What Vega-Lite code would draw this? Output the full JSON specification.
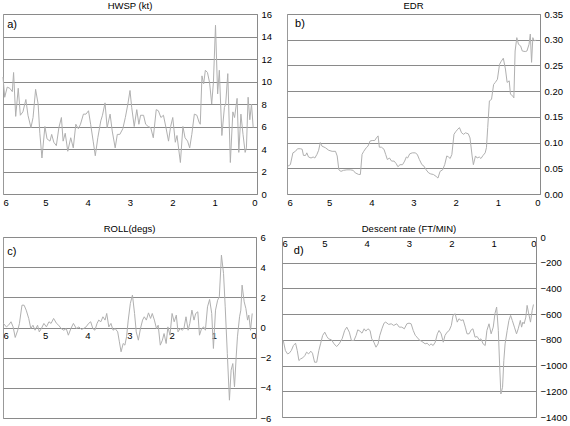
{
  "$schema": "https://vega.github.io/schema/vega-lite/v6.json",
  "padding": {"left": 0, "top": 0, "right": 0, "bottom": 0},
  "background": "white",
  "spacing": 16,
  "config": {
    "font": "Liberation Sans",
    "view": {"stroke": "#999999", "strokeWidth": 1},
    "title": {"fontSize": 9.5, "fontWeight": "normal", "font": "Liberation Sans", "offset": -1, "color": "black"},
    "axis": {
      "labelFont": "Liberation Sans", "labelFontSize": 9.5, "labelColor": "black", "labelOverlap": false,
      "tickCount": 20, "ticks": false, "title": null, "gridColor": "#8a8a8a", "gridOpacity": 1,
      "domainColor": "#8a8a8a", "labelPadding": 4
    },
    "line": {"color": "#b0b0b0", "strokeWidth": 1},
    "text": {"font": "Liberation Sans", "fontSize": 11, "align": "left", "baseline": "middle", "color": "black"}
  },
  "datasets": {
    "hwsp": [
      {"t":6.0,"v":10.4},{"t":5.96,"v":8.6},{"t":5.90,"v":9.5},{"t":5.84,"v":9.4},{"t":5.78,"v":9.1},{"t":5.75,"v":10.8},{"t":5.70,"v":6.9},{"t":5.64,"v":9.4},{"t":5.59,"v":7.0},{"t":5.53,"v":7.3},
      {"t":5.46,"v":8.4},{"t":5.41,"v":7.0},{"t":5.34,"v":5.9},{"t":5.29,"v":6.8},{"t":5.23,"v":9.3},{"t":5.17,"v":8.0},{"t":5.13,"v":5.4},{"t":5.08,"v":3.2},{"t":5.01,"v":6.0},{"t":4.96,"v":4.9},
      {"t":4.89,"v":4.7},{"t":4.85,"v":5.3},{"t":4.80,"v":4.6},{"t":4.74,"v":4.3},{"t":4.68,"v":5.9},{"t":4.62,"v":6.8},{"t":4.58,"v":4.7},{"t":4.53,"v":5.4},{"t":4.47,"v":3.8},{"t":4.40,"v":5.0},
      {"t":4.34,"v":4.1},{"t":4.28,"v":6.2},{"t":4.22,"v":5.8},{"t":4.17,"v":6.2},{"t":4.10,"v":7.1},{"t":4.04,"v":7.1},{"t":3.98,"v":7.4},{"t":3.93,"v":6.2},{"t":3.87,"v":4.7},{"t":3.82,"v":3.4},
      {"t":3.76,"v":5.0},{"t":3.69,"v":6.5},{"t":3.65,"v":7.0},{"t":3.59,"v":8.1},{"t":3.54,"v":5.9},{"t":3.47,"v":7.1},{"t":3.42,"v":5.6},{"t":3.35,"v":4.1},{"t":3.30,"v":5.3},{"t":3.24,"v":5.3},
      {"t":3.17,"v":5.8},{"t":3.11,"v":6.8},{"t":3.05,"v":8.0},{"t":3.00,"v":9.2},{"t":2.96,"v":7.7},{"t":2.90,"v":6.0},{"t":2.84,"v":7.5},{"t":2.79,"v":6.2},{"t":2.75,"v":7.0},{"t":2.68,"v":7.0},
      {"t":2.63,"v":6.2},{"t":2.57,"v":6.0},{"t":2.51,"v":5.9},{"t":2.45,"v":5.0},{"t":2.38,"v":7.5},{"t":2.33,"v":7.4},{"t":2.27,"v":6.8},{"t":2.21,"v":7.0},{"t":2.15,"v":5.9},{"t":2.09,"v":4.7},
      {"t":2.04,"v":6.0},{"t":1.99,"v":6.8},{"t":1.93,"v":4.6},{"t":1.89,"v":5.2},{"t":1.85,"v":4.0},{"t":1.81,"v":2.8},{"t":1.75,"v":6.0},{"t":1.70,"v":5.0},{"t":1.64,"v":4.7},{"t":1.59,"v":4.1},
      {"t":1.54,"v":5.3},{"t":1.48,"v":7.1},{"t":1.42,"v":7.0},{"t":1.37,"v":6.4},{"t":1.34,"v":6.2},{"t":1.30,"v":10.5},{"t":1.26,"v":9.8},{"t":1.22,"v":11.0},{"t":1.17,"v":10.8},{"t":1.12,"v":9.9},
      {"t":1.07,"v":8.0},{"t":1.03,"v":9.9},{"t":0.98,"v":15.0},{"t":0.93,"v":8.9},{"t":0.89,"v":11.0},{"t":0.83,"v":5.2},{"t":0.77,"v":7.7},{"t":0.74,"v":8.0},{"t":0.69,"v":10.7},{"t":0.63,"v":2.8},
      {"t":0.57,"v":7.3},{"t":0.53,"v":6.8},{"t":0.47,"v":8.5},{"t":0.43,"v":3.7},{"t":0.38,"v":7.1},{"t":0.33,"v":5.3},{"t":0.28,"v":3.7},{"t":0.25,"v":4.1},{"t":0.21,"v":8.6},{"t":0.17,"v":6.6},
      {"t":0.13,"v":8.0},{"t":0.09,"v":5.9}
    ],
    "edr": [
      {"t":5.98,"v":0.054},{"t":5.92,"v":0.057},{"t":5.86,"v":0.080},{"t":5.80,"v":0.083},{"t":5.75,"v":0.088},{"t":5.68,"v":0.088},{"t":5.64,"v":0.087},{"t":5.61,"v":0.075},{"t":5.56,"v":0.075},{"t":5.53,"v":0.080},
      {"t":5.49,"v":0.072},{"t":5.43,"v":0.070},{"t":5.38,"v":0.072},{"t":5.34,"v":0.070},{"t":5.29,"v":0.077},{"t":5.25,"v":0.085},{"t":5.21,"v":0.100},{"t":5.17,"v":0.093},{"t":5.09,"v":0.090},{"t":5.01,"v":0.085},
      {"t":4.93,"v":0.083},{"t":4.85,"v":0.083},{"t":4.81,"v":0.074},{"t":4.77,"v":0.047},{"t":4.72,"v":0.044},{"t":4.66,"v":0.046},{"t":4.58,"v":0.047},{"t":4.50,"v":0.047},{"t":4.43,"v":0.046},{"t":4.38,"v":0.041},
      {"t":4.30,"v":0.038},{"t":4.26,"v":0.038},{"t":4.22,"v":0.077},{"t":4.18,"v":0.083},{"t":4.12,"v":0.090},{"t":4.08,"v":0.093},{"t":4.03,"v":0.103},{"t":3.98,"v":0.104},{"t":3.92,"v":0.104},{"t":3.88,"v":0.109},
      {"t":3.84,"v":0.113},{"t":3.81,"v":0.091},{"t":3.76,"v":0.091},{"t":3.70,"v":0.087},{"t":3.66,"v":0.077},{"t":3.62,"v":0.067},{"t":3.57,"v":0.070},{"t":3.52,"v":0.064},{"t":3.46,"v":0.064},{"t":3.41,"v":0.059},
      {"t":3.37,"v":0.053},{"t":3.32,"v":0.057},{"t":3.26,"v":0.057},{"t":3.21,"v":0.064},{"t":3.17,"v":0.072},{"t":3.14,"v":0.070},{"t":3.09,"v":0.078},{"t":3.03,"v":0.080},{"t":2.96,"v":0.080},{"t":2.91,"v":0.077},
      {"t":2.86,"v":0.067},{"t":2.80,"v":0.057},{"t":2.75,"v":0.054},{"t":2.70,"v":0.047},{"t":2.64,"v":0.041},{"t":2.59,"v":0.039},{"t":2.53,"v":0.038},{"t":2.46,"v":0.034},{"t":2.42,"v":0.031},{"t":2.37,"v":0.044},
      {"t":2.31,"v":0.047},{"t":2.26,"v":0.057},{"t":2.21,"v":0.074},{"t":2.17,"v":0.072},{"t":2.13,"v":0.069},{"t":2.09,"v":0.077},{"t":2.04,"v":0.116},{"t":2.00,"v":0.121},{"t":1.95,"v":0.126},{"t":1.91,"v":0.129},
      {"t":1.86,"v":0.119},{"t":1.81,"v":0.116},{"t":1.77,"v":0.119},{"t":1.70,"v":0.117},{"t":1.66,"v":0.109},{"t":1.61,"v":0.074},{"t":1.58,"v":0.057},{"t":1.53,"v":0.074},{"t":1.49,"v":0.070},{"t":1.44,"v":0.072},
      {"t":1.40,"v":0.069},{"t":1.35,"v":0.075},{"t":1.30,"v":0.080},{"t":1.27,"v":0.090},{"t":1.24,"v":0.129},{"t":1.20,"v":0.181},{"t":1.15,"v":0.184},{"t":1.10,"v":0.213},{"t":1.06,"v":0.217},{"t":1.01,"v":0.223},
      {"t":0.96,"v":0.252},{"t":0.92,"v":0.258},{"t":0.87,"v":0.264},{"t":0.82,"v":0.243},{"t":0.78,"v":0.217},{"t":0.73,"v":0.220},{"t":0.70,"v":0.194},{"t":0.65,"v":0.191},{"t":0.62,"v":0.187},{"t":0.59,"v":0.278},
      {"t":0.55,"v":0.304},{"t":0.51,"v":0.291},{"t":0.46,"v":0.288},{"t":0.42,"v":0.278},{"t":0.35,"v":0.277},{"t":0.31,"v":0.278},{"t":0.26,"v":0.291},{"t":0.23,"v":0.311},{"t":0.20,"v":0.256},{"t":0.17,"v":0.304},
      {"t":0.14,"v":0.298},{"t":0.09,"v":0.299}
    ],
    "roll": [
      {"t":5.99,"v":0.27},{"t":5.92,"v":0.04},{"t":5.87,"v":0.15},{"t":5.81,"v":0.38},{"t":5.76,"v":0.04},{"t":5.71,"v":-0.66},{"t":5.65,"v":-0.18},{"t":5.61,"v":0.27},{"t":5.55,"v":1.48},{"t":5.50,"v":1.48},
      {"t":5.45,"v":1.15},{"t":5.39,"v":0.60},{"t":5.34,"v":-0.07},{"t":5.29,"v":0.15},{"t":5.24,"v":-0.18},{"t":5.18,"v":0.15},{"t":5.14,"v":-0.29},{"t":5.09,"v":-0.07},{"t":5.03,"v":0.27},{"t":4.97,"v":0.04},
      {"t":4.91,"v":0.38},{"t":4.86,"v":0.27},{"t":4.80,"v":0.60},{"t":4.73,"v":0.27},{"t":4.68,"v":0.15},{"t":4.62,"v":-0.07},{"t":4.56,"v":-0.18},{"t":4.50,"v":-0.07},{"t":4.45,"v":-0.51},{"t":4.39,"v":-0.07},
      {"t":4.33,"v":0.27},{"t":4.26,"v":-0.07},{"t":4.20,"v":0.04},{"t":4.14,"v":-0.13},{"t":4.09,"v":-0.07},{"t":4.03,"v":0.04},{"t":3.97,"v":0.27},{"t":3.92,"v":0.38},{"t":3.87,"v":-0.07},{"t":3.82,"v":-0.18},
      {"t":3.77,"v":0.27},{"t":3.73,"v":0.49},{"t":3.68,"v":0.38},{"t":3.63,"v":0.71},{"t":3.58,"v":0.49},{"t":3.54,"v":0.93},{"t":3.49,"v":0.04},{"t":3.44,"v":0.27},{"t":3.39,"v":-0.18},{"t":3.34,"v":-0.07},
      {"t":3.28,"v":-0.29},{"t":3.24,"v":-0.95},{"t":3.20,"v":-1.61},{"t":3.15,"v":-1.06},{"t":3.11,"v":-1.17},{"t":3.07,"v":-0.62},{"t":3.03,"v":0.49},{"t":2.98,"v":1.59},{"t":2.93,"v":2.15},{"t":2.88,"v":0.93},
      {"t":2.84,"v":-0.29},{"t":2.79,"v":-0.84},{"t":2.74,"v":-0.07},{"t":2.69,"v":0.49},{"t":2.65,"v":0.71},{"t":2.60,"v":0.49},{"t":2.55,"v":0.97},{"t":2.50,"v":0.60},{"t":2.46,"v":0.93},{"t":2.41,"v":0.49},
      {"t":2.36,"v":-0.07},{"t":2.32,"v":0.15},{"t":2.27,"v":-1.17},{"t":2.22,"v":-0.84},{"t":2.18,"v":-0.40},{"t":2.13,"v":-1.06},{"t":2.09,"v":0.04},{"t":2.04,"v":-0.51},{"t":1.99,"v":0.93},{"t":1.94,"v":0.38},
      {"t":1.89,"v":0.82},{"t":1.85,"v":-0.29},{"t":1.80,"v":-0.07},{"t":1.75,"v":-0.18},{"t":1.71,"v":-0.07},{"t":1.66,"v":0.71},{"t":1.61,"v":-0.18},{"t":1.57,"v":0.27},{"t":1.52,"v":1.15},{"t":1.47,"v":0.49},
      {"t":1.43,"v":0.93},{"t":1.38,"v":1.04},{"t":1.34,"v":-0.51},{"t":1.29,"v":-0.07},{"t":1.24,"v":0.04},{"t":1.20,"v":-0.18},{"t":1.15,"v":1.37},{"t":1.10,"v":1.86},{"t":1.05,"v":0.93},{"t":1.01,"v":-1.39},
      {"t":0.96,"v":1.15},{"t":0.91,"v":1.81},{"t":0.87,"v":2.04},{"t":0.82,"v":4.80},{"t":0.77,"v":3.58},{"t":0.73,"v":1.37},{"t":0.68,"v":-1.73},{"t":0.63,"v":-4.82},{"t":0.59,"v":-2.83},{"t":0.55,"v":-2.39},
      {"t":0.51,"v":-3.94},{"t":0.47,"v":-1.95},{"t":0.44,"v":-0.62},{"t":0.39,"v":0.71},{"t":0.36,"v":1.15},{"t":0.33,"v":2.81},{"t":0.28,"v":1.70},{"t":0.24,"v":1.26},{"t":0.20,"v":0.49},{"t":0.17,"v":0.82},
      {"t":0.13,"v":-0.18},{"t":0.09,"v":0.93}
    ],
    "descent": [
      {"t":5.97,"v":-805},{"t":5.92,"v":-883},{"t":5.87,"v":-909},{"t":5.83,"v":-904},{"t":5.78,"v":-883},{"t":5.73,"v":-844},{"t":5.68,"v":-826},{"t":5.64,"v":-883},{"t":5.60,"v":-961},{"t":5.56,"v":-948},
      {"t":5.51,"v":-940},{"t":5.46,"v":-922},{"t":5.42,"v":-896},{"t":5.37,"v":-909},{"t":5.32,"v":-888},{"t":5.28,"v":-904},{"t":5.23,"v":-974},{"t":5.18,"v":-974},{"t":5.13,"v":-883},{"t":5.09,"v":-831},
      {"t":5.04,"v":-766},{"t":4.99,"v":-740},{"t":4.94,"v":-774},{"t":4.90,"v":-792},{"t":4.83,"v":-800},{"t":4.77,"v":-831},{"t":4.71,"v":-852},{"t":4.65,"v":-831},{"t":4.58,"v":-792},{"t":4.52,"v":-727},
      {"t":4.47,"v":-701},{"t":4.41,"v":-740},{"t":4.36,"v":-805},{"t":4.30,"v":-805},{"t":4.25,"v":-766},{"t":4.21,"v":-722},{"t":4.16,"v":-732},{"t":4.11,"v":-748},{"t":4.06,"v":-714},{"t":4.02,"v":-732},
      {"t":3.97,"v":-714},{"t":3.92,"v":-727},{"t":3.88,"v":-792},{"t":3.83,"v":-818},{"t":3.78,"v":-857},{"t":3.73,"v":-831},{"t":3.69,"v":-766},{"t":3.64,"v":-714},{"t":3.59,"v":-670},{"t":3.55,"v":-662},
      {"t":3.48,"v":-680},{"t":3.42,"v":-675},{"t":3.36,"v":-688},{"t":3.29,"v":-675},{"t":3.23,"v":-701},{"t":3.17,"v":-701},{"t":3.11,"v":-714},{"t":3.05,"v":-675},{"t":3.00,"v":-670},{"t":2.95,"v":-675},
      {"t":2.90,"v":-727},{"t":2.85,"v":-766},{"t":2.81,"v":-779},{"t":2.76,"v":-800},{"t":2.71,"v":-810},{"t":2.67,"v":-818},{"t":2.62,"v":-831},{"t":2.57,"v":-826},{"t":2.52,"v":-844},{"t":2.48,"v":-831},
      {"t":2.43,"v":-844},{"t":2.38,"v":-818},{"t":2.33,"v":-753},{"t":2.29,"v":-727},{"t":2.24,"v":-753},{"t":2.19,"v":-818},{"t":2.15,"v":-766},{"t":2.10,"v":-740},{"t":2.05,"v":-727},{"t":2.00,"v":-688},
      {"t":1.96,"v":-610},{"t":1.91,"v":-597},{"t":1.86,"v":-662},{"t":1.82,"v":-636},{"t":1.77,"v":-649},{"t":1.72,"v":-644},{"t":1.67,"v":-701},{"t":1.63,"v":-753},{"t":1.58,"v":-753},{"t":1.53,"v":-722},
      {"t":1.49,"v":-714},{"t":1.44,"v":-779},{"t":1.39,"v":-774},{"t":1.34,"v":-800},{"t":1.30,"v":-792},{"t":1.25,"v":-831},{"t":1.20,"v":-844},{"t":1.16,"v":-727},{"t":1.11,"v":-675},{"t":1.06,"v":-753},
      {"t":1.01,"v":-701},{"t":0.97,"v":-597},{"t":0.93,"v":-545},{"t":0.89,"v":-727},{"t":0.86,"v":-987},{"t":0.83,"v":-1221},{"t":0.79,"v":-1169},{"t":0.76,"v":-961},{"t":0.73,"v":-831},{"t":0.68,"v":-727},
      {"t":0.64,"v":-649},{"t":0.60,"v":-610},{"t":0.56,"v":-649},{"t":0.51,"v":-701},{"t":0.46,"v":-753},{"t":0.42,"v":-714},{"t":0.37,"v":-649},{"t":0.34,"v":-701},{"t":0.31,"v":-662},{"t":0.28,"v":-675},
      {"t":0.24,"v":-623},{"t":0.21,"v":-532},{"t":0.18,"v":-584},{"t":0.13,"v":-662},{"t":0.09,"v":-571},{"t":0.06,"v":-525}
    ]
  },
  "vconcat": [
    {
      "spacing": 12,
      "hconcat": [
        {
          "width": 254, "height": 180,
          "title": "HWSP (kt)",
          "layer": [
            {
              "data": {"name": "hwsp"},
              "mark": "line",
              "encoding": {
                "x": {"field": "t", "type": "quantitative", "scale": {"domain": [0, 6], "reverse": true, "nice": false},
                      "axis": {"values": [0, 1, 2, 3, 4, 5, 6], "format": "d", "grid": false, "domain": false, "labelPadding": 3}},
                "y": {"field": "v", "type": "quantitative", "scale": {"domain": [0, 16], "nice": false},
                      "axis": {"orient": "right", "values": [0, 2, 4, 6, 8, 10, 12, 14, 16], "format": "d", "grid": true}}
              }
            },
            {
              "data": {"values": [{"t": 5.9, "v": 15.05, "lab": "a)"}]},
              "mark": "text",
              "encoding": {
                "x": {"field": "t", "type": "quantitative"},
                "y": {"field": "v", "type": "quantitative"},
                "text": {"field": "lab"}
              }
            }
          ]
        },
        {
          "width": 253, "height": 180,
          "title": "EDR",
          "layer": [
            {
              "data": {"name": "edr"},
              "mark": "line",
              "encoding": {
                "x": {"field": "t", "type": "quantitative", "scale": {"domain": [0, 6], "reverse": true, "nice": false},
                      "axis": {"values": [0, 1, 2, 3, 4, 5, 6], "format": "d", "grid": false, "domain": false, "labelPadding": 3}},
                "y": {"field": "v", "type": "quantitative", "scale": {"domain": [0, 0.35], "nice": false},
                      "axis": {"orient": "right", "values": [0, 0.05, 0.1, 0.15, 0.2, 0.25, 0.3, 0.35], "format": ".2f", "grid": true}}
              }
            },
            {
              "data": {"values": [{"t": 5.81, "v": 0.3296, "lab": "b)"}]},
              "mark": "text",
              "encoding": {
                "x": {"field": "t", "type": "quantitative"},
                "y": {"field": "v", "type": "quantitative"},
                "text": {"field": "lab"}
              }
            }
          ]
        }
      ]
    },
    {
      "spacing": 8,
      "hconcat": [
        {
          "width": 253, "height": 181,
          "title": "ROLL(degs)",
          "layer": [
            {
              "data": {"name": "roll"},
              "mark": "line",
              "encoding": {
                "x": {"field": "t", "type": "quantitative", "scale": {"domain": [0, 6], "reverse": true, "nice": false},
                      "axis": {"values": [0, 1, 2, 3, 4, 5, 6], "format": "d", "grid": false, "domain": false, "offset": -90, "labelPadding": 2}},
                "y": {"field": "v", "type": "quantitative", "scale": {"domain": [-6, 6], "nice": false},
                      "axis": {"orient": "right", "values": [-6, -4, -2, 0, 2, 4, 6], "format": "d", "grid": true}}
              }
            },
            {
              "data": {"values": [{"t": 5.9, "v": 5.0, "lab": "c)"}]},
              "mark": "text",
              "encoding": {
                "x": {"field": "t", "type": "quantitative"},
                "y": {"field": "v", "type": "quantitative"},
                "text": {"field": "lab"}
              }
            }
          ]
        },
        {
          "width": 254, "height": 180,
          "title": "Descent rate (FT/MIN)",
          "layer": [
            {
              "data": {"name": "descent"},
              "mark": "line",
              "encoding": {
                "x": {"field": "t", "type": "quantitative", "scale": {"domain": [0, 6], "reverse": true, "nice": false},
                      "axis": {"orient": "top", "values": [0, 1, 2, 3, 4, 5, 6], "format": "d", "grid": false, "domain": false, "offset": -13, "labelPadding": 2}},
                "y": {"field": "v", "type": "quantitative", "scale": {"domain": [-1400, 0], "nice": false},
                      "axis": {"orient": "right", "values": [-1400, -1200, -1000, -800, -600, -400, -200, 0], "format": "d", "grid": true}}
              }
            },
            {
              "data": {"values": [{"t": 5.72, "v": -110, "lab": "d)"}]},
              "mark": "text",
              "encoding": {
                "x": {"field": "t", "type": "quantitative"},
                "y": {"field": "v", "type": "quantitative"},
                "text": {"field": "lab"}
              }
            }
          ]
        }
      ]
    }
  ]
}
